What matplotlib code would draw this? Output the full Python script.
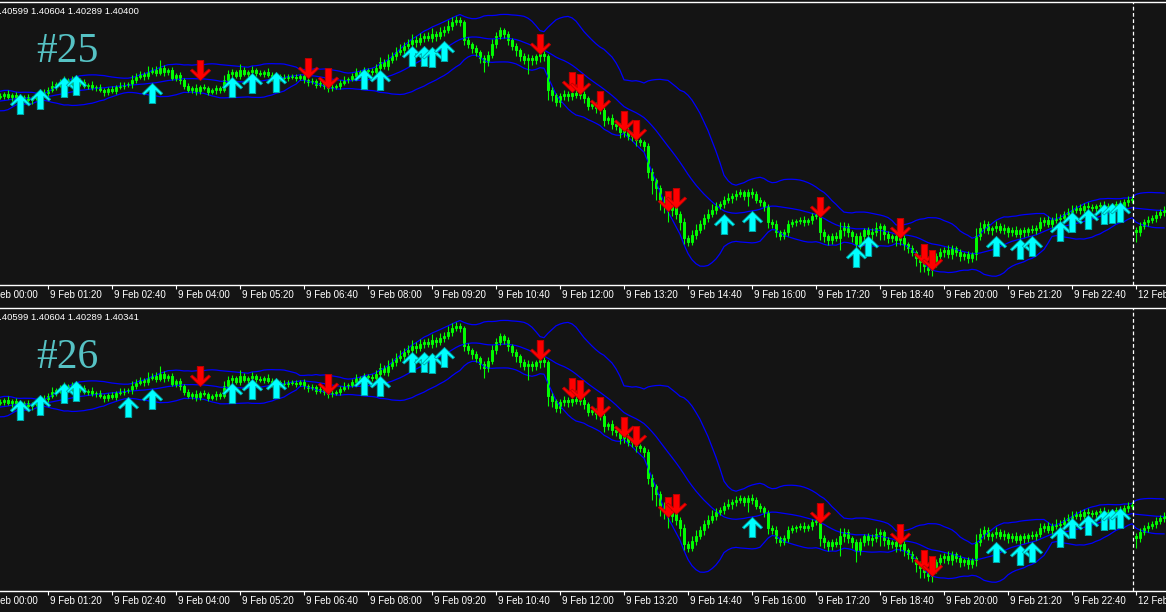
import numpy as np
import pandas as pd
import matplotlib
matplotlib.use("Agg")
import matplotlib.pyplot as plt
from matplotlib.path import Path
from matplotlib.transforms import blended_transform_factory

# prices in points above 1.40000 (1 point = 0.00001), M5 bars
# previous session, only used to warm up the bollinger bands
prev_closes = [188, 192, 186, 190, 194, 196, 192, 188, 190, 196,
               200, 202, 198, 194, 196, 200, 204, 202, 200, 203]

closes = [
    204, 202, 205, 203,
    # 9 Feb 00:20 - 04:00
    204, 206, 203, 205, 202, 201, 203, 200, 202, 204, 205, 207, 210, 214, 216, 218, 220, 217,
    221, 220, 218, 214, 215, 212, 213, 210, 208, 211, 209, 213, 214, 215, 216, 220, 223, 226,
    224, 228, 230, 227, 232, 228, 230, 222, 225, 220, 214, 210, 212, 209, 213,
    # 04:05 - 08:10
    212, 208, 210, 212, 210, 220, 226, 228, 224, 230, 226, 228, 230, 227, 226, 228, 225, 222,
    224, 223, 222, 224, 223, 222, 224, 220, 218, 219, 215, 217, 214, 212, 213, 214, 217, 220,
    221, 224, 228, 227, 230, 229, 228, 232, 238, 234, 240, 244, 248, 250,
    # 08:15 - 11:15
    254, 256, 260, 258, 262, 264, 262, 266, 264, 268, 270, 274, 278, 280, 278, 260, 256, 252,
    248, 242, 238, 245, 256, 264, 270, 266, 260, 254, 250, 244, 240, 242, 240, 244, 246, 244,
    210,
    # 11:20 - 14:25
    205, 198, 204, 206, 204, 207, 205, 206, 202, 194, 196, 192, 190, 180, 182, 176, 174, 168,
    170, 164, 166, 160, 158, 154, 128, 120, 112, 100, 95, 90, 94, 86, 78, 62, 58, 65, 70, 76,
    # 14:30 - 18:35
    82, 86, 90, 94, 96, 100, 102, 104, 106, 108, 104, 108, 106, 100, 98, 94, 78, 76, 68, 64,
    68, 76, 78, 79, 80, 78, 80, 84, 86, 68, 64, 60, 64, 62, 70, 74, 68, 64, 56, 64, 70, 66,
    68, 72, 74, 66, 62, 64, 60, 62,
    # 18:40 - 23:55
    56, 52, 48, 42, 38, 34, 30, 38, 44, 48, 50, 46, 52, 48, 44, 46, 42, 46, 64, 72, 76, 70,
    72, 74, 70, 72, 68, 70, 66, 70, 68, 71, 70, 72, 78, 80, 76, 80, 81, 82, 86, 88, 90, 92,
    90, 94, 93, 92, 94, 95, 93, 94, 95, 96, 94, 98, 100, 101,
    # 12 Feb
    68, 74, 78, 80, 82, 85, 88, 90,
]
feb12_open = 70

wick_up = [
    2, 2, 2, 2,
    3, 2, 4, 2, 3, 2, 2, 3, 2, 3, 2, 4, 3, 5, 2, 3, 4, 2, 3, 2, 2, 3, 2, 4, 2, 3, 2, 2, 3, 2,
    4, 3, 2, 5, 4, 3, 2, 6, 3, 4, 8, 3, 2, 3, 2, 3, 2, 3, 2, 4, 2,
    3, 2, 2, 3, 2, 5, 4, 3, 2, 6, 3, 2, 4, 2, 3, 2, 4, 3, 2, 2, 3, 2, 2, 3, 2, 3, 2, 3, 2, 3,
    2, 2, 3, 2, 3, 4, 2, 3, 4, 2, 3, 2, 3, 4, 5, 3, 6, 4, 5, 6,
    4, 5, 6, 4, 5, 3, 4, 6, 3, 5, 4, 6, 5, 4, 3, 2, 3, 2, 3, 2, 3, 4, 5, 4, 3, 2, 3, 2, 3, 2,
    3, 4, 3, 2, 6, 3, 2,
    3, 2, 3, 4, 3, 5, 3, 2, 3, 2, 3, 2, 2, 3, 2, 4, 2, 3, 2, 3, 2, 3, 2, 2, 3, 4, 2, 3, 4, 2,
    3, 2, 3, 4, 3, 5, 6, 4,
    4, 5, 6, 4, 3, 4, 5, 3, 4, 3, 2, 3, 4, 3, 3, 2, 2, 3, 4, 2, 3, 4, 3, 2, 3, 4, 2, 3, 4, 2,
    3, 2, 3, 4, 8, 4, 3, 2, 3, 4, 2, 3, 4, 6, 3, 2, 3, 2, 3, 2,
    3, 2, 3, 2, 3, 2, 3, 2, 3, 4, 3, 5, 3, 2, 3, 2, 3, 2, 8, 6, 4, 3, 2, 5, 3, 4, 2, 3, 4, 2,
    3, 2, 4, 3, 5, 3, 4, 3, 6, 4, 3, 4, 5, 3, 4, 3, 4, 3, 2, 3, 4, 3, 2, 3, 4, 3, 4, 3,
    3, 4, 3, 4, 3, 4, 3, 4,
]
wick_dn = [
    2, 2, 2, 2,
    2, 3, 2, 4, 3, 2, 3, 2, 4, 2, 3, 2, 3, 2, 4, 3, 2, 3, 2, 3, 4, 2, 3, 2, 3, 2, 4, 3, 2, 3,
    2, 3, 2, 4, 3, 2, 4, 3, 2, 3, 2, 4, 3, 2, 3, 4, 3, 2, 3, 4, 3,
    2, 3, 2, 4, 3, 2, 3, 4, 2, 3, 2, 3, 2, 3, 2, 3, 2, 3, 2, 4, 2, 3, 2, 3, 2, 3, 4, 2, 3, 2,
    3, 4, 3, 2, 3, 2, 3, 2, 3, 4, 3, 2, 3, 2, 4, 3, 4, 3, 4, 3,
    4, 3, 4, 5, 3, 4, 3, 4, 5, 3, 4, 3, 4, 3, 4, 5, 4, 5, 4, 5, 10, 4, 3, 4, 3, 4, 5, 4, 6, 5,
    4, 14, 5, 4, 6, 5, 10,
    6, 4, 5, 4, 5, 4, 3, 4, 5, 4, 3, 5, 4, 6, 4, 5, 4, 6, 5, 4, 5, 6, 4, 5, 6, 14, 12, 10, 8, 12,
    6, 5, 8, 6, 4, 3, 4, 3,
    5, 4, 3, 4, 3, 4, 3, 5, 4, 3, 4, 10, 4, 3, 4, 5, 6, 4, 5, 4, 3, 4, 3, 4, 3, 4, 3, 4, 3, 8,
    6, 5, 4, 3, 12, 6, 5, 6, 12, 5, 4, 5, 6, 4, 12, 6, 5, 4, 6, 5,
    6, 5, 4, 8, 10, 6, 5, 6, 5, 4, 5, 4, 5, 4, 5, 4, 5, 4, 6, 4, 5, 4, 5, 4, 3, 4, 5, 4, 3, 4,
    5, 4, 3, 4, 3, 4, 3, 4, 3, 4, 5, 3, 4, 3, 4, 3, 4, 3, 4, 3, 4, 3, 4, 3, 4, 3, 4, 3,
    10, 4, 3, 4, 3, 4, 3, 4,
]

tick_labels = ["9 Feb 00:00", "9 Feb 01:20", "9 Feb 02:40", "9 Feb 04:00", "9 Feb 05:20",
               "9 Feb 06:40", "9 Feb 08:00", "9 Feb 09:20", "9 Feb 10:40", "9 Feb 12:00",
               "9 Feb 13:20", "9 Feb 14:40", "9 Feb 16:00", "9 Feb 17:20", "9 Feb 18:40",
               "9 Feb 20:00", "9 Feb 21:20", "9 Feb 22:40", "12 Feb 00:00"]
tick_bars = [0, 16, 32, 48, 64, 80, 96, 112, 128, 144, 160, 176, 192, 208, 224, 240, 256, 272, 288]

# signal arrows: bar index, price level (points)
up25_bar = [9, 14, 20, 23, 42, 62, 67, 73, 95, 99, 107, 110, 112, 115, 185, 192, 218, 221,
            253, 259, 262, 269, 272, 276, 280, 282, 284]
up25_pts = [196, 201, 213, 215, 207, 213, 217, 218, 221, 220, 244, 244, 243, 249, 76, 79, 43, 54,
            54, 51, 54, 69, 78, 81, 86, 87, 88]
dn25_bar = [54, 81, 86, 139, 147, 149, 154, 160, 163, 171, 173, 209, 229, 235, 237]
dn25_pts = [230, 232, 222, 256, 218, 216, 199, 179, 170, 99, 102, 93, 72, 46, 40]

up26_bar = [9, 14, 20, 23, 36, 42, 62, 67, 73, 95, 99, 107, 110, 112, 115, 192,
            253, 259, 262, 269, 272, 276, 280, 282, 284]
up26_pts = [196, 201, 213, 215, 199, 207, 213, 217, 218, 221, 220, 244, 244, 243, 249, 79,
            54, 51, 54, 69, 78, 81, 86, 87, 88]
dn26_bar = [54, 86, 139, 147, 149, 154, 160, 163, 171, 173, 209, 229, 235, 237]
dn26_pts = [230, 222, 256, 218, 216, 199, 179, 170, 99, 102, 93, 72, 46, 40]

BG = "#141414"
LIME = "#00ff00"

def px(p):
    return 1.4 + np.asarray(p, dtype=float) / 100000

# candle arrays
n = len(closes)
bars = np.arange(n)
opens = [prev_closes[-1]] + closes[:-1]
opens[288] = feb12_open
o = px(opens)
c = px(closes)
hi = np.maximum(o, c) + px(wick_up) - 1.4
lo = np.minimum(o, c) - (px(wick_dn) - 1.4)

allc = pd.Series(prev_closes + closes, dtype=float)
mid = allc.rolling(20).mean()
sd = allc.rolling(20).std(ddof=0)
mid_b = px(mid.values[len(prev_closes):])
up_b = px((mid + 2 * sd).values[len(prev_closes):])
lo_b = px((mid - 2 * sd).values[len(prev_closes):])

verts = [(0, 1), (1, 0.02), (0.82, -0.14), (0.32, 0.3), (0.32, -1), (-0.32, -1),
         (-0.32, 0.3), (-0.82, -0.14), (-1, 0.02), (0, 1)]
up_arrow = Path(verts, closed=True)
dn_arrow = Path([(x, -y) for x, y in verts], closed=True)


def panel(ax, title, header, ub, up_, db, dp):
    ax.set_facecolor(BG)
    ax.plot(bars, up_b, color="#0000ff", lw=0.9)
    ax.plot(bars, mid_b, color="#0000ff", lw=0.9)
    ax.plot(bars, lo_b, color="#0000ff", lw=0.9)
    ax.vlines(bars, lo, hi, color=LIME, lw=0.8)
    body = np.maximum(np.abs(c - o), 0.000006)
    face = ["white" if cc < oo else "black" for oo, cc in zip(o, c)]
    ax.bar(bars, body, bottom=np.minimum(o, c), width=0.5, color=face, edgecolor=LIME, lw=0.7)
    ax.plot(ub, px(up_), ls="none", marker=up_arrow, ms=14.5, mfc="#00ffff", mec="#00a8a8", mew=0.6)
    ax.plot(db, px(dp), ls="none", marker=dn_arrow, ms=14.5, mfc="#ff0000", mec="#c00000", mew=0.6)
    ax.axvline(287.2, color="white", ls=(0, (3, 2)), lw=0.9)

    ax.set_xlim(4, 295.5)
    ax.set_ylim(px(15), px(298))
    ax.set_yticks([])
    ax.set_xticks(tick_bars[1:])
    ax.tick_params(axis="x", direction="out", length=3, width=0.8, color="white", labelbottom=False)
    for s in ["left", "right"]:
        ax.spines[s].set_visible(False)
    for s in ["top", "bottom"]:
        ax.spines[s].set_color("white")
        ax.spines[s].set_linewidth(1.0)

    tr = blended_transform_factory(ax.transData, ax.transAxes)
    for b, lab in zip(tick_bars, tick_labels):
        ax.text(b + 0.5, -0.018, lab, transform=tr, ha="left", va="top", color="white",
                fontsize=7, family="Liberation Sans", clip_on=False)
    ax.text(-0.005, 0.958, header, transform=ax.transAxes, color="white", fontsize=6.8,
            family="Liberation Sans", va="baseline", ha="left")
    ax.text(0.031, 0.788, title, transform=ax.transAxes, color="#56c2c4", fontsize=30,
            family="Liberation Serif", va="baseline", ha="left")


fig = plt.figure(figsize=(11.66, 6.12), dpi=100, facecolor=BG)
ax1 = fig.add_axes([0, 1 - 285 / 612, 1, 283 / 612])
ax2 = fig.add_axes([0, 1 - 591 / 612, 1, 283 / 612])
panel(ax1, "#25", "1.40599 1.40604 1.40289 1.40400", up25_bar, up25_pts, dn25_bar, dn25_pts)
panel(ax2, "#26", "1.40599 1.40604 1.40289 1.40341", up26_bar, up26_pts, dn26_bar, dn26_pts)

fig.savefig("out.png", dpi=100, facecolor=BG)
